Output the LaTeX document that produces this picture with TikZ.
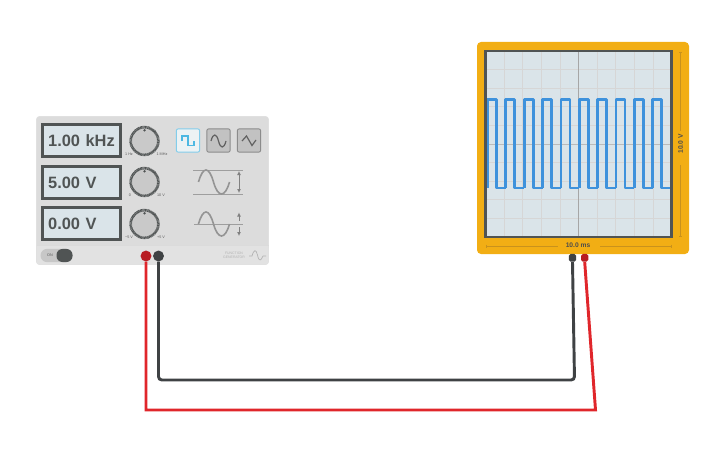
\documentclass[tikz,border=0pt]{standalone}
\usepackage{fontspec}
\setmainfont{Liberation Sans}
\usepackage{tikz}
\usetikzlibrary{arrows.meta}
\definecolor{panel}{HTML}{DCDCDC}
\definecolor{strip}{HTML}{E2E2E2}
\definecolor{lcd}{HTML}{DAE4E9}
\definecolor{darkgray}{HTML}{505454}
\definecolor{scopeorange}{HTML}{F2AE14}
\definecolor{dimline}{HTML}{C9921C}
\definecolor{trace}{HTML}{3E92DC}
\definecolor{wirered}{HTML}{E0262B}
\definecolor{wireblack}{HTML}{3F4244}
\definecolor{termred}{HTML}{B81C22}
\definecolor{selblue}{HTML}{4DB8E2}
\begin{document}
\begin{tikzpicture}[x=0.75pt,y=-0.75pt]
\tikzstyle{display} = [rectangle, draw = darkgray, line width = 2.2pt, fill = lcd, minimum width = 58pt, minimum height = 24.2pt, inner sep = 0pt, text = darkgray, font = \bfseries\fontsize{12.3}{14}\selectfont, text width = 50pt, align = left]
\tikzstyle{knob} = [circle, draw = darkgray, line width = 2pt, dash pattern = on 0.6pt off 0.35pt, fill = black!21, minimum size = 20.8pt, inner sep = 0pt]
\tikzstyle{dot} = [circle, fill = darkgray, minimum size = 2pt, inner sep = 0pt]
\tikzstyle{tiny} = [font = \fontsize{2.8}{3}\selectfont, text = black!65, inner sep = 0pt]
\tikzstyle{wavebtn} = [rectangle, rounded corners = 1.5pt, draw = black!45, line width = 0.7pt, fill = black!24, minimum size = 17.5pt, inner sep = 0pt]
\tikzstyle{selbtn} = [wavebtn, draw = selblue!70!white, fill = lcd!50!white]
\tikzstyle{icon} = [line width = 0.9pt, draw = black!62]
\tikzstyle{guide} = [line width = 0.7pt, draw = black!38]
\tikzstyle{sinecurve} = [line width = 1.2pt, draw = black!42]
\tikzstyle{markarrow} = [line width = 0.6pt, draw = black!50, -{Latex[length=3pt,width=3pt]}]
\tikzstyle{terminal} = [circle, minimum size = 8.2pt, inner sep = 0pt]
\tikzstyle{probe} = [rectangle, rounded corners = 1.3pt, minimum width = 5.4pt, minimum height = 5.8pt, inner sep = 0pt]
\tikzstyle{wire} = [line width = 2.2pt]
\tikzstyle{dimen} = [draw = dimline, line width = 0.5pt]
\tikzstyle{scopetext} = [font = \bfseries\fontsize{5}{6}\selectfont, text = black!70, inner sep = 0pt]
\useasboundingbox (0,0) rectangle (725,453);

% function generator
\node[draw = black!12, fill = panel, rounded corners = 2pt, minimum width = 174pt, minimum height = 111pt, inner sep = 0pt] (gen) at (152.5,190.5) {};
\fill[strip, rounded corners = 2pt] (36.5,245) rectangle (268.5,264.5);
\draw[black!14, line width = 0.5pt] (36.5,245) -- (268.5,245);
\node[display] (freq) at (81.5,140.5) {1.00 kHz};
\node[display] (ampl) at (81.5,182.5) {5.00 V};
\node[display] (offs) at (81.5,223.5) {0.00 V};
\node[knob] (kfreq) at (144.5,141) {};
\node[knob] (kampl) at (144.5,182) {};
\node[knob] (koffs) at (144.5,224) {};
\foreach \k in {kfreq, kampl, koffs}
  \node[dot] at ([yshift = 8pt]\k.center) {};
\node[tiny] (l1) at (129,154.5) {1 Hz};
\node[tiny] (l2) at (162,154.5) {1 MHz};
\node[tiny] (l3) at (130,195.5) {0};
\node[tiny] (l4) at (161,195.5) {10 V};
\node[tiny] (l5) at (129,237.5) {−5 V};
\node[tiny] (l6) at (161,237.5) {+5 V};

% wave buttons
\node[selbtn] (bsquare) at (188,140.5) {};
\node[wavebtn] (bsine) at (218.5,140.5) {};
\node[wavebtn] (btri) at (249,140.5) {};
\draw[selblue, line width = 1.1pt] (182,141) -- (182,136) -- (188,136) -- (188,145.5) -- (194,145.5) -- (194,141);
\draw[icon] (211,141) .. controls (213,133) and (216.5,133) .. (218.5,141) .. controls (220.5,149) and (224,149) .. (226,141);
\draw[icon] (242,141) -- (246.5,136) -- (252,145.5) -- (256,140);

% amplitude and offset pictures
\draw[guide] (193,170) -- (243,170);
\draw[guide] (193,194) -- (243,194);
\draw[sinecurve] (198.5,182) .. controls (203,166) and (209,166) .. (213.5,182) .. controls (218,198) and (225,198) .. (229.5,182);
\draw[markarrow, {Latex[length=3pt,width=3pt]}-{Latex[length=3pt,width=3pt]}] (239,171) -- (239,193);
\draw[guide] (194,224) -- (243,224);
\draw[sinecurve] (198.5,224) .. controls (203,208) and (209,208) .. (213.5,224) .. controls (218,240) and (225,240) .. (229.5,224);
\draw[markarrow] (239,220.5) -- (239,212.5);
\draw[markarrow] (239,227) -- (239,236);

% on switch
\node[draw = none, fill = black!22, rounded corners = 5pt, minimum width = 24pt, minimum height = 10pt, inner sep = 0pt] (switch) at (56.5,255.5) {};
\node[fill = darkgray, rounded corners = 4.5pt, minimum width = 12pt, minimum height = 9.8pt, inner sep = 0pt] (slider) at (64.5,255.5) {};
\node[tiny] (ontext) at (50,255.5) {ON};

% maker mark
\node[tiny, text = black!30, align = center, font = \fontsize{2.6}{3.2}\selectfont] (maker) at (234,255.5) {FUNCTION\\GENERATOR};
\draw[black!30, line width = 0.5pt] (249,256) -- (252,256) .. controls (254,249) and (256,249) .. (257.5,255) .. controls (259,262) and (261,261) .. (263,256) -- (266,256);

% oscilloscope
\node[fill = scopeorange, rounded corners = 3pt, minimum width = 159pt, minimum height = 159pt, inner sep = 0pt] (scope) at (583,148) {};
\node[draw = darkgray, line width = 1.9pt, fill = lcd, minimum width = 139.5pt, minimum height = 139.5pt, inner sep = 0pt] (screen) at (578.5,144) {};
\foreach \i in {1,...,9} {
  \draw[black!16, line width = 0.6pt] (485.5+18.6*\i,52) -- (485.5+18.6*\i,236);
  \draw[black!16, line width = 0.6pt] (487,51+18.6*\i) -- (670,51+18.6*\i);
}
\draw[black!35, line width = 0.6pt] (578.5,52) -- (578.5,236);
\draw[black!27, line width = 0.6pt] (487,144) -- (670,144);
% trace
\foreach \i in {0,...,9}
  \draw[trace, line width = 2.1pt, line join = round] (487.5+18.35*\i,188) -- (487.5+18.35*\i,99.5) -- (496.5+18.35*\i,99.5) -- (496.5+18.35*\i,188) -- (505.85+18.35*\i,188);
\draw[trace, line width = 2.1pt] (664,188) -- (671,188);
\node[draw = darkgray, line width = 1.9pt, minimum width = 139.5pt, minimum height = 139.5pt, inner sep = 0pt] (frame) at (578.5,144) {};

% scale labels
\node[scopetext] (timelabel) at (578,245.5) {10.0 ms};
\node[scopetext, rotate = 90] (voltlabel) at (680.5,144) {10.0 V};
\coordinate (tl) at (486,246);
\coordinate (tr) at (671,246);
\coordinate (vt) at (680.5,52);
\coordinate (vb) at (680.5,236);
\draw[dimen] (tl) -- (558,246);
\draw[dimen] (600,246) -- (tr);
\draw[dimen] (486,244.5) -- (486,247.5);
\draw[dimen] (671,244.5) -- (671,247.5);
\draw[dimen] (vt) -- (680.5,131);
\draw[dimen] (680.5,165) -- (vb);
\draw[dimen] (679,52) -- (682,52);
\draw[dimen] (679,236) -- (682,236);

% connectors
\node[terminal, fill = termred] (genred) at (146,256) {};
\node[terminal, fill = wireblack] (genblack) at (158.5,256) {};
\node[probe, fill = wireblack] (scopeblack) at (572.5,257.8) {};
\node[probe, fill = termred] (scopered) at (584.7,257.8) {};
\coordinate (bc1) at (158.5,380);
\coordinate (bc2) at (574.5,380);
\coordinate (rc1) at (146,410);
\coordinate (rc2) at (595.5,410);
\draw[wire, wireblack, rounded corners = 2.5pt] (genblack.south) -- (bc1) -- (bc2) -- (scopeblack.south);
\draw[wire, wirered] (genred.south) -- (rc1) -- (rc2) -- (scopered.south);
\end{tikzpicture}
\end{document}
